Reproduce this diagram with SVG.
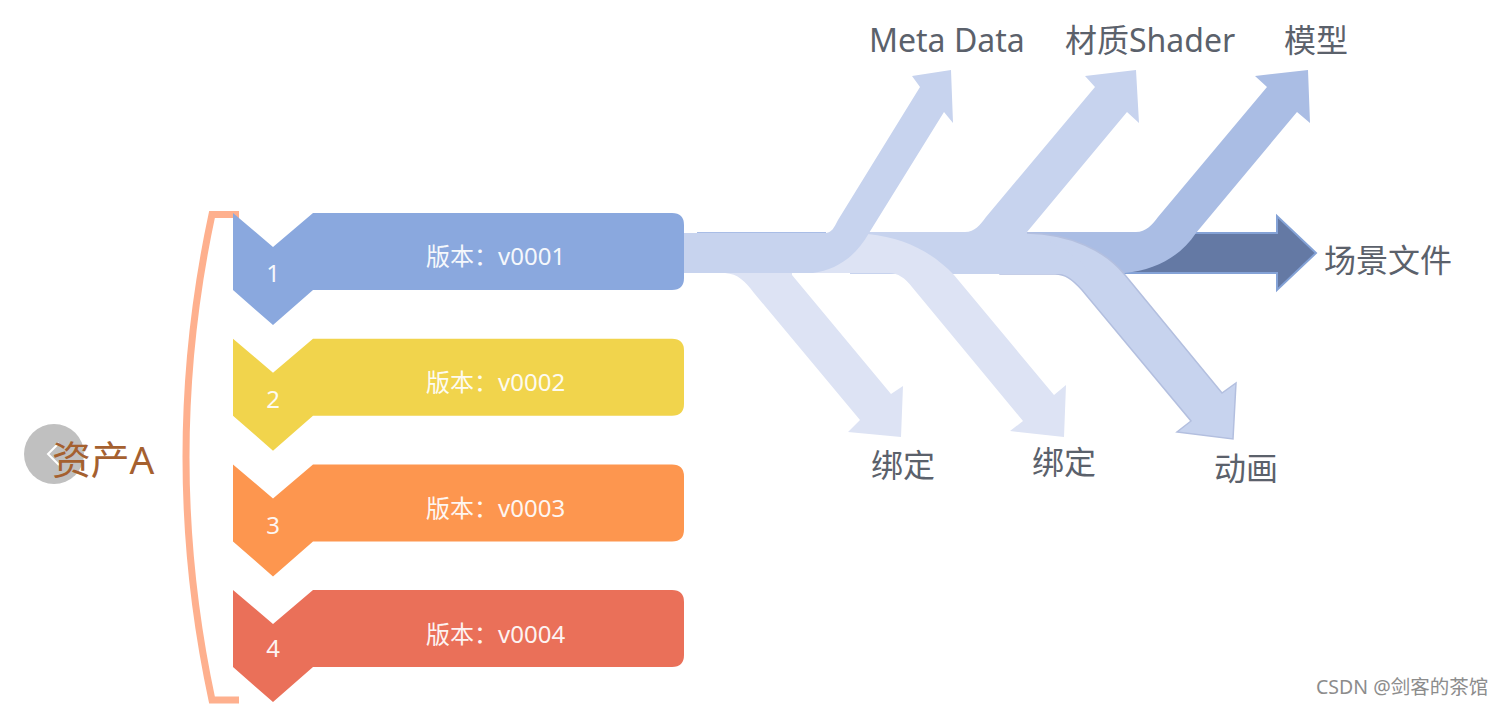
<svg xmlns="http://www.w3.org/2000/svg" width="1502" height="706" viewBox="0 0 1502 706">
<style>
text{font-family:"Noto Sans","Noto Sans CJK SC",sans-serif}
.bar text{fill:#fff;font-size:24px;opacity:.92}
.n{text-anchor:middle}
.lab{fill:#5b616b;font-size:32px}
.a1{fill:#c7d3ee}
.a2{fill:#dde3f4}
.a3{fill:#aabde4}
</style>
<defs>
<path id="chev" d="M233 213L273 247L313 213H672Q684 213 684 225V278Q684 290 672 290H313L273 325L233 290Z"/>
</defs>
<rect width="1502" height="706" fill="#fff"/>
<g id="connectors">
<path id="main" d="M1100 233H1277V216L1316 253L1277 290V273H1100Z" fill="#6479a4" stroke="#84a2d6" stroke-width="2"/>
<path id="to-model" class="a3" d="M1000 232H1136C1146 232 1152 225 1158 217L1267 87L1255 76L1308 70L1310 123L1297 112L1196 233C1180 257 1155 270 1125 273H1000Z"/>
<path id="to-anim" class="a1" stroke="#b3bfdf" stroke-width="1.500" d="M1000 233H1027C1070 234 1105 250 1125 275L1222 393L1236 383L1233 439L1177 432L1191 421L1082 290C1072 279 1065 274 1055 274H1000Z"/>
<path id="to-shader" class="a1" d="M850 232H965C975 232 980 225 986 217L1095 87L1085 76L1136 70L1139 123L1127 112L1027 232V234C1045 238 1075 250 1090 274H850Z"/>
<path id="to-bind1" class="a2" d="M700 273H725C738 274 745 281 754 293L860 420L848 432L901 437L903 386L891 394L792 275V270H700Z"/>
<path id="to-bind2" class="a2" d="M868 234C905 238 932 252 954 275L1054 395L1066 385L1064 437L1010 431L1023 421L912 287C905 278 898 273 889 273H810V234Z"/>
<path id="to-meta" class="a1" d="M683 233H826C832 232 834 228 838 220L920 87L912 76L951 70L953 123L944 112L869 233C855 258 835 270 813 273H683Z"/>
<path d="M697 232.500H826" stroke="#a9bde6" stroke-width="1" fill="none"/>
</g>
<g id="bracket"><path d="M239 214.500H212Q160 457 212 700H239" fill="none" stroke="#feb08e" stroke-width="7"/></g>
<g id="v1" class="bar"><use href="#chev" fill="#8aa8de"/><text class="n" x="273" y="282">1</text><text x="426" y="265">版本：v0001</text></g>
<g id="v2" class="bar"><use href="#chev" y="125.700" fill="#f1d44c"/><text class="n" x="273" y="408">2</text><text x="426" y="391">版本：v0002</text></g>
<g id="v3" class="bar"><use href="#chev" y="251.400" fill="#fd964f"/><text class="n" x="273" y="534">3</text><text x="426" y="517">版本：v0003</text></g>
<g id="v4" class="bar"><use href="#chev" y="377" fill="#ea7059"/><text class="n" x="273" y="657">4</text><text x="426" y="643">版本：v0004</text></g>
<g id="asset">
<circle cx="54" cy="454" r="30" fill="#c0c0c0"/>
<path d="M59 443L48 454L59 465" fill="none" stroke="#fff" stroke-width="2"/>
<text x="52" y="474" font-size="38.800" fill="#a5602f">资产A</text>
</g>
<g id="labels">
<text class="lab" x="869" y="52">Meta Data</text>
<text class="lab" x="1065" y="52">材质Shader</text>
<text class="lab" x="1284" y="52">模型</text>
<text class="lab" x="1324" y="272">场景文件</text>
<text class="lab" x="871" y="477">绑定</text>
<text class="lab" x="1032" y="474">绑定</text>
<text class="lab" x="1214" y="480">动画</text>
</g>
<text x="1316" y="694" font-size="19.500" fill="#8c8c8c">CSDN @剑客的茶馆</text>
</svg>
